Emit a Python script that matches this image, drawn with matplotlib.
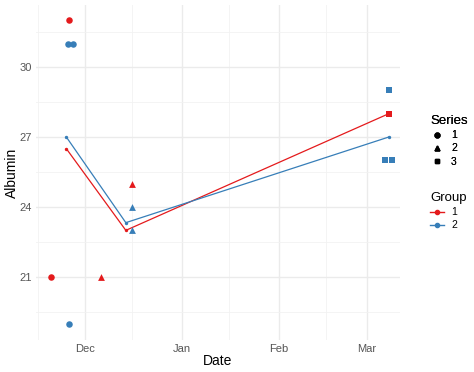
import numpy as np
import matplotlib
matplotlib.use("Agg")
import matplotlib.pyplot as plt
import matplotlib.dates as mdates
from matplotlib.lines import Line2D

plt.rcParams['font.family'] = ['Liberation Sans', 'DejaVu Sans']

red = '#E41A1C'
blue = '#377EB8'

# raw points: date, albumin, group, series
pt_dates = ['2018-11-26', '2018-11-20', '2018-11-25T12', '2018-11-27', '2018-11-26',
            '2018-12-06', '2018-12-16', '2018-12-16', '2018-12-16',
            '2019-03-08', '2019-03-08', '2019-03-06T20', '2019-03-09T04']
pt_albumin = [32, 21, 31, 31, 19,
              21, 25, 24, 23,
              28, 29, 26, 26]
pt_group = [1, 1, 2, 2, 2,
            1, 1, 2, 2,
            1, 2, 2, 2]
pt_series = [1, 1, 1, 1, 1,
             2, 2, 2, 2,
             3, 3, 3, 3]

# group mean lines
line_dates = ['2018-11-25', '2018-12-14', '2019-03-08']
line_g1 = [26.5, 23.0, 28.0]
line_g2 = [27.0, 23.33, 27.0]

markers = {1: 'o', 2: '^', 3: 's'}
sizes = {1: 22, 2: 24, 3: 18}
colors = {1: red, 2: blue}

fig = plt.figure(figsize=(4.74, 3.72), dpi=100)
ax = fig.add_axes([36/474, 32/372, 364/474, 335/372])

ld = mdates.date2num(np.array(line_dates, dtype='datetime64[h]'))
ax.plot(ld, line_g1, '-', color=red, linewidth=0.9, zorder=3)
ax.scatter(ld, line_g1, s=6, color=red, zorder=4, linewidths=0)
ax.plot(ld, line_g2, '-', color=blue, linewidth=0.9, zorder=3)
ax.scatter(ld, line_g2, s=6, color=blue, zorder=4, linewidths=0)

pd_ = mdates.date2num(np.array(pt_dates, dtype='datetime64[h]'))
for x, y, g, s in zip(pd_, pt_albumin, pt_group, pt_series):
    ax.scatter([x], [y], s=sizes[s], marker=markers[s], color=colors[g], zorder=5, linewidths=0)

# axes limits
ax.set_xlim(mdates.date2num(np.datetime64('2018-11-15')) + 0.3,
            mdates.date2num(np.datetime64('2019-03-11')) + 0.6)
ax.set_ylim(18.3, 32.66)

ax.xaxis.set_major_locator(mdates.MonthLocator(bymonthday=1))
ax.xaxis.set_major_formatter(mdates.DateFormatter('%b'))
ax.xaxis.set_minor_locator(mdates.MonthLocator(bymonthday=16))
ax.set_yticks([21, 24, 27, 30])
ax.set_yticks([19.5, 22.5, 25.5, 28.5, 31.5], minor=True)

ax.grid(True, which='major', color='#EBEBEB', linewidth=1.0)
ax.grid(True, which='minor', color='#F2F2F2', linewidth=0.6)
ax.set_axisbelow(True)
for sp in ax.spines.values():
    sp.set_visible(False)
ax.tick_params(which='both', length=0, labelsize=8, labelcolor='#555555', pad=3)

ax.set_xlabel('Date', fontsize=10, labelpad=0)
ax.set_ylabel('Albumin', fontsize=10, va='center')
ax.yaxis.set_label_coords(12/474, 0.5 * (32 + 367) / 372, transform=fig.transFigure)

# legends
series_handles = [Line2D([], [], linestyle='', marker=markers[k], color='black', markersize=3.5) for k in (1, 2, 3)]
leg1 = fig.legend(series_handles, ['1', '2', '3'], title='Series', loc='upper left',
                  bbox_to_anchor=(426/474, 1 - 111/372), frameon=False, fontsize=7.5,
                  title_fontsize=9.5, handlelength=1.3, handletextpad=0.7, labelspacing=0.3,
                  borderaxespad=0, alignment='left')
group_handles = [Line2D([], [], linestyle='-', marker='o', color=c, markersize=3, linewidth=1.0) for c in (red, blue)]
fig.legend(group_handles, ['1', '2'], title='Group', loc='upper left',
           bbox_to_anchor=(426/474, 1 - 188/372), frameon=False, fontsize=7.5,
           title_fontsize=9.5, handlelength=1.3, handletextpad=0.7, labelspacing=0.3,
           borderaxespad=0, alignment='left')
fig.add_artist(leg1)

fig.savefig('out.png', dpi=100)
